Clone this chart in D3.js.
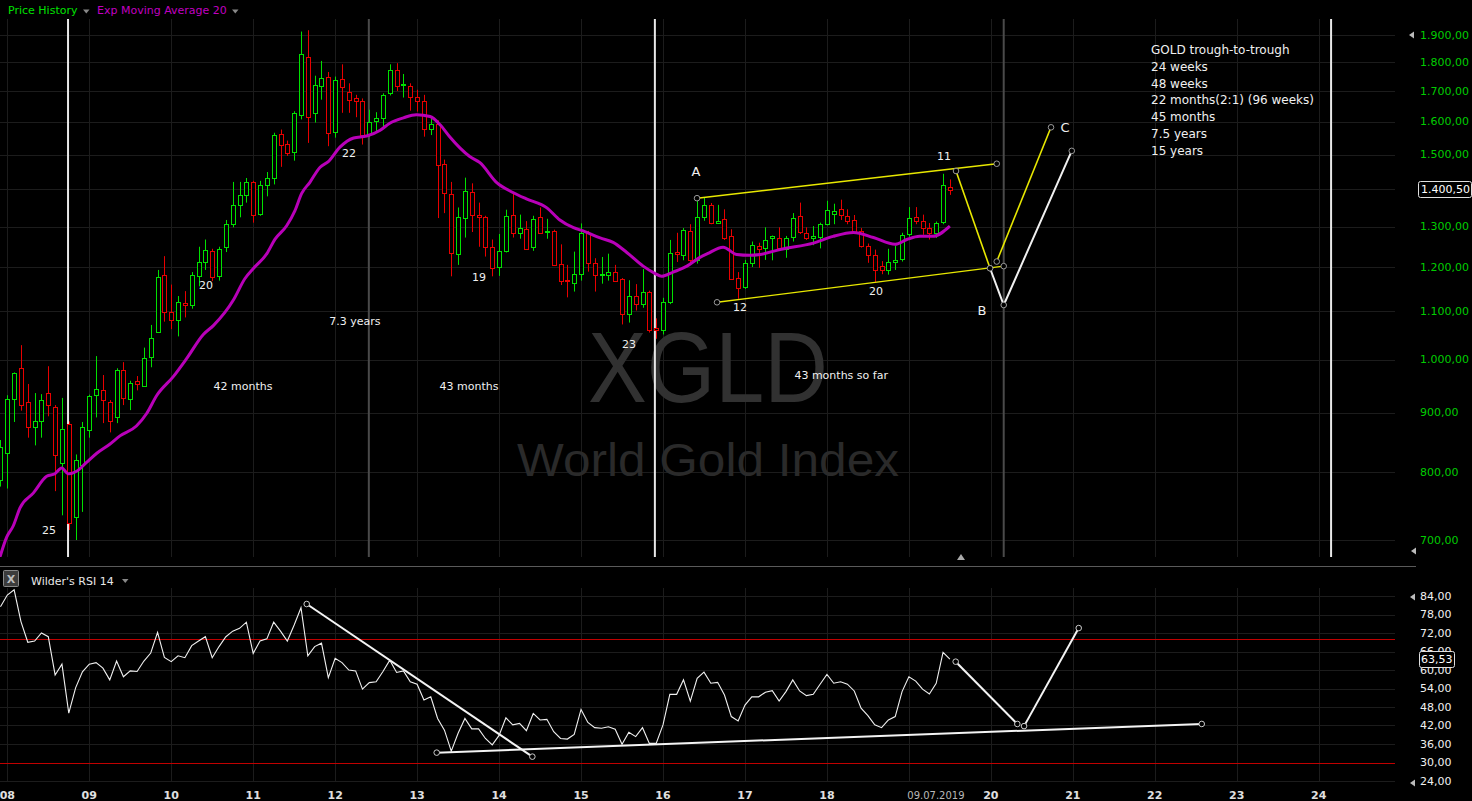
<!DOCTYPE html>
<html>
<head>
<meta charset="utf-8">
<script src="https://cdn.jsdelivr.net/npm/d3@7"></script>
<style>
html, body { margin: 0; padding: 0; background: #000; }
svg { display: block; font-family: "DejaVu Sans", Verdana, sans-serif; }
</style>
</head>
<body>
<div id="chart"></div>
<script>
//Datos mensuales (primer valor = dic 2007)
const FIRST_YEAR = 2007 + 11 / 12;
const opens = [788,832,925,983,920,875,885,936,911,814,880,733,812,871,931,941,919,892,979,925,958,950,1004,1057,1181,1099,1080,1119,1113,1179,1213,1240,1181,1250,1307,1358,1385,1421,1332,1411,1434,1563,1533,1507,1623,1820,1627,1718,1748,1568,1741,1698,1676,1669,1562,1600,1611,1693,1773,1719,1717,1681,1667,1576,1592,1472,1387,1231,1325,1392,1332,1326,1250,1202,1240,1332,1285,1295,1250,1326,1287,1290,1209,1170,1164,1185,1285,1211,1182,1182,1190,1172,1094,1134,1117,1144,1065,1060,1120,1236,1230,1290,1217,1325,1358,1311,1321,1278,1176,1154,1211,1253,1248,1272,1273,1246,1276,1329,1285,1273,1273,1307,1332,1346,1329,1317,1290,1253,1229,1203,1193,1213,1220,1282,1326,1316,1298,1285,1313,1408];
const highs = [853,932,975,1029,953,936,934,987,914,927,885,829,884,933,1007,970,923,983,995,959,968,1024,1071,1194,1227,1160,1134,1145,1189,1250,1268,1245,1250,1318,1421,1421,1432,1424,1424,1449,1566,1576,1542,1634,1913,1918,1753,1805,1766,1750,1793,1727,1688,1676,1639,1631,1693,1793,1797,1759,1727,1705,1688,1611,1605,1485,1421,1351,1433,1417,1364,1329,1268,1282,1345,1389,1332,1315,1329,1351,1321,1293,1256,1206,1238,1309,1290,1222,1225,1233,1206,1175,1170,1161,1196,1146,1085,1130,1267,1285,1297,1307,1376,1379,1363,1358,1346,1294,1189,1218,1263,1260,1299,1278,1299,1277,1336,1364,1299,1302,1311,1369,1361,1372,1346,1331,1297,1258,1243,1215,1245,1253,1285,1352,1352,1332,1310,1314,1444,1428];
const lows = [778,775,884,904,857,844,857,894,771,735,714,700,740,857,892,882,866,882,914,905,941,948,985,1055,1078,1062,1047,1087,1106,1156,1194,1168,1169,1237,1299,1325,1364,1311,1329,1381,1414,1464,1496,1482,1608,1535,1598,1672,1525,1551,1629,1629,1615,1530,1553,1566,1584,1686,1701,1679,1636,1633,1554,1559,1323,1336,1179,1206,1273,1287,1250,1226,1179,1180,1236,1273,1270,1243,1240,1282,1270,1204,1159,1131,1144,1169,1190,1144,1162,1169,1169,1072,1076,1102,1108,1055,1042,1051,1116,1213,1217,1209,1209,1316,1307,1309,1267,1171,1128,1150,1201,1199,1218,1217,1246,1223,1263,1282,1267,1254,1246,1304,1307,1318,1307,1282,1248,1211,1166,1184,1183,1194,1214,1275,1307,1280,1268,1272,1307,1385];
const closes = [841,925,973,914,875,885,923,914,829,871,724,820,876,931,943,923,885,979,927,955,952,1004,1043,1178,1097,1082,1120,1115,1181,1213,1243,1179,1245,1307,1358,1385,1421,1332,1411,1431,1560,1530,1507,1627,1830,1615,1721,1745,1565,1737,1713,1672,1665,1560,1600,1611,1686,1773,1719,1723,1681,1667,1576,1592,1469,1389,1234,1325,1397,1329,1326,1250,1199,1240,1329,1285,1297,1246,1321,1285,1290,1206,1169,1167,1185,1285,1211,1182,1185,1190,1170,1094,1134,1117,1144,1062,1060,1120,1234,1232,1292,1217,1325,1358,1311,1316,1273,1174,1154,1211,1255,1246,1267,1276,1248,1273,1324,1287,1273,1278,1307,1343,1341,1329,1316,1287,1253,1232,1194,1193,1213,1218,1280,1323,1315,1298,1285,1311,1412,1400.5];
const rsiValues = [80.5,84.3,86,75.7,69,69.4,72,70.8,58.4,61.9,46,54.2,59.4,61.9,62.4,60.6,56.8,62.9,57.8,59.7,59.5,62.9,65.5,72.2,64.1,62.7,64.6,64,67.9,69.4,70.8,64,67.6,70.8,72.6,73.5,75.5,65.4,69.4,70.1,75.5,72.6,69.4,74.6,80.2,64.6,67.6,68.7,57.5,63.8,62.4,60,59.7,53.8,55.9,56.2,59.5,63.2,59.2,59.7,56.2,55.4,50.3,51.3,44.3,40.5,33.7,39.5,44.3,40.9,40.9,37.8,35.7,38.8,44.5,42.2,42.7,40.3,45.9,43.8,44,40,37.8,37.6,39.1,47.2,43,41.3,41.1,41.6,40.8,35.9,39.8,38.4,41.3,36.2,36.2,42.2,52.1,52.1,56.8,49.9,57.3,59.3,55.7,56,51.9,44.9,43.5,48.6,51.3,51.3,52.8,53.3,49.9,53,56.8,53.2,51.7,52.1,55.4,58.6,55.7,56.2,55.4,53.2,47.6,45.2,42.2,41.3,43.8,44.9,53,57.8,56.4,53.8,52.2,55.7,65.7,63.53];

//Media exponencial 20 (mes desde ene 2008, valor)
const emaMonths = [-1.07,-0.09,0.88,1.86,3.8,5.77,6.98,7.96,8.93,10.16,11.6,13.1,15,16.5,18.9,20.4,21.9,24.3,26.3,28.7,30.2,33.1,34.8,36,38,39.2,40.9,42.1,43.1,44.3,45.8,47,48.7,50.7,52.6,54.6,56,58,59.9,61.9,63.4,64.8,66.3,67.7,69.2,71.7,74.1,76,79,80.9,82.9,84.3,86.8,88.7,90.7,93.1,94.8,95.8,97.5,99.5,101.4,102.5,104.8,106.8,108.7,110.2,113.3,118,120.9,123.9,126.8,130,131.7,133.6,135.5,138];
const emaValues = [677,704,720,746,768,794,798,807,798,802,816,831,846,860,877,899,932,967,1003,1051,1070,1125,1174,1197,1233,1269,1303,1342,1389,1420,1463,1479,1522,1550,1556,1574,1596,1613,1623,1617,1590,1553,1519,1494,1476,1418,1391,1374,1350,1318,1298,1290,1272,1261,1236,1203,1186,1179,1189,1203,1224,1233,1249,1231,1229,1231,1244,1259,1276,1286,1273,1256,1268,1276,1276,1302];

//Ejes
const priceTicks = [700,800,900,1000,1100,1200,1300,1400,1500,1600,1700,1800,1900];
const rsiTicks = [84,78,72,66,60,54,48,42,36,30,24];
const rsiLevels = [70, 30];
const yearTicks = d3.range(2008, 2025);
const lastDateLabel = '09.07.2019';
const lastPrice = 1400.5;
const lastRsi = 63.53;

//Lineas de ciclo (años decimales)
const cycleMajor = [2008.741, 2015.901, 2024.151];
const cycleMinor = [2012.411, 2020.157];

//Dibujos sobre el precio [año, precio]
const channelTop = [[2016.415, 1376], [2020.072, 1473]];
const channelBottom = [[2016.659, 1120], [2020.157, 1203]];
const abcYellowDown = [[2019.575, 1452], [2019.990, 1198]];
const abcYellowUp = [[2020.072, 1214], [2020.734, 1583]];
const abcWhite = [[2019.990, 1198], [2020.157, 1114], [2020.987, 1511]];

//Dibujos sobre el RSI [año, rsi]
const rsiDownTrend = [[2011.653, 81.4], [2014.406, 31.9]];
const rsiSupport = [[2013.239, 33.2], [2022.573, 42.5]];
const rsiPathDown = [[2019.571, 62.7], [2020.323, 42.5]];
const rsiPathUp = [[2020.405, 41.8], [2021.072, 73.6]];

//Textos [texto, año, precio]
const noteTexts = ['25','20','22','7.3 years','42 months','19','43 months','23','12','20','11','43 months so far'];
const noteYears = [2008.509,2010.424,2012.169,2012.241,2010.876,2013.755,2013.633,2015.585,2016.940,2018.599,2019.429,2018.174];
const notePrices = [712.6,1157,1503,1079,949,1177,948,1031,1108,1145,1494,970];
const waveTexts = ['A','B','C'];
const waveYears = [2016.403, 2019.893, 2020.906];
const wavePrices = [1452, 1101, 1581];
const infoLines = ['GOLD trough-to-trough','24 weeks','48 weeks','22 months(2:1) (96 weeks)','45 months','7.5 years','15 years'];

//Colores
const COLOR_UP = '#00e000', COLOR_DOWN = '#e80000', COLOR_EMA = '#b800b8',
COLOR_GRID = '#1c1c1c', COLOR_AXIS_PRICE = '#00cc00', COLOR_YELLOW = '#e8e800';

let width = 1472, height = 801;
let plotRight = 1395;
let mainTop = 19, mainBottom = 557;
let rsiTop = 588, rsiBottom = 782;

let svg = d3.select('#chart')
    .append('svg')
        .attr('width', width)
        .attr('height', height)
        .style('background', '#000');

let x = d3.scaleLinear()
    .domain([2008, 2024])
    .range([7.3, 1318.7]);

let y = d3.scaleLog()
    .domain([700, 1900])
    .range([540, 35]);

let yRsi = d3.scaleLinear()
    .domain([24, 84])
    .range([781, 596]);

let fmt = d3.formatLocale({decimal: ',', thousands: '.', grouping: [3], currency: ['', '']}).format(',.2f');

let defs = svg.append('defs');
defs.append('clipPath').attr('id', 'clip-main')
    .append('rect').attr('x', 0).attr('y', mainTop).attr('width', plotRight).attr('height', mainBottom - mainTop);
defs.append('clipPath').attr('id', 'clip-rsi')
    .append('rect').attr('x', 0).attr('y', rsiTop).attr('width', plotRight).attr('height', rsiBottom - rsiTop + 6);

///////////////PANEL PRECIO///////////////
let gMain = svg.append('g').attr('clip-path', 'url(#clip-main)');

//Rejilla
gMain.append('g')
    .selectAll('line')
    .data(yearTicks)
    .enter()
    .append('line')
    .attr('x1', function(d) { return Math.round(x(d)) + 0.5; })
    .attr('x2', function(d) { return Math.round(x(d)) + 0.5; })
    .attr('y1', mainTop)
    .attr('y2', mainBottom)
    .attr('stroke', COLOR_GRID);

gMain.append('g')
    .selectAll('line')
    .data(priceTicks)
    .enter()
    .append('line')
    .attr('x1', 0)
    .attr('x2', plotRight)
    .attr('y1', function(d) { return Math.round(y(d)) + 0.5; })
    .attr('y2', function(d) { return Math.round(y(d)) + 0.5; })
    .attr('stroke', COLOR_GRID);

//Marcas de agua (detrás de todo)
gMain.append('text')
    .attr('x', 708)
    .attr('y', 402)
    .attr('text-anchor', 'middle')
    .attr('font-family', '"Liberation Sans", Arial, sans-serif')
    .attr('font-size', 100)
    .attr('textLength', 240)
    .attr('lengthAdjust', 'spacingAndGlyphs')
    .attr('fill', '#313131')
    .text('XGLD');

gMain.append('text')
    .attr('x', 708)
    .attr('y', 476)
    .attr('text-anchor', 'middle')
    .attr('font-family', '"Liberation Sans", Arial, sans-serif')
    .attr('font-size', 46)
    .attr('textLength', 382)
    .attr('lengthAdjust', 'spacingAndGlyphs')
    .attr('fill', '#2a2a2a')
    .text('World Gold Index');

//Lineas de ciclo
gMain.append('g')
    .selectAll('line')
    .data(cycleMinor)
    .enter()
    .append('line')
    .attr('x1', function(d) { return x(d); })
    .attr('x2', function(d) { return x(d); })
    .attr('y1', mainTop)
    .attr('y2', mainBottom)
    .attr('stroke', '#4a4a4a')
    .attr('stroke-width', 2);

gMain.append('g')
    .selectAll('line')
    .data(cycleMajor)
    .enter()
    .append('line')
    .attr('x1', function(d) { return x(d); })
    .attr('x2', function(d) { return x(d); })
    .attr('y1', mainTop)
    .attr('y2', mainBottom)
    .attr('stroke', '#e8e8e8')
    .attr('stroke-width', 2);

//Velas
let candles = opens.map(function(o, i) {
    return { t: FIRST_YEAR + i / 12, o: o, h: highs[i], l: lows[i], c: closes[i] };
});

let gCandles = gMain.append('g');

gCandles.selectAll('.wick')
    .data(candles)
    .enter()
    .append('line')
    .attr('class', 'wick')
    .attr('x1', function(d) { return Math.round(x(d.t)) + 0.5; })
    .attr('x2', function(d) { return Math.round(x(d.t)) + 0.5; })
    .attr('y1', function(d) { return y(d.h); })
    .attr('y2', function(d) { return y(d.l); })
    .attr('stroke', function(d) { return d.c >= d.o ? COLOR_UP : COLOR_DOWN; })
    .attr('stroke-width', 1);

gCandles.selectAll('.body')
    .data(candles)
    .enter()
    .append('rect')
    .attr('class', 'body')
    .attr('x', function(d) { return Math.round(x(d.t)) - 1.5; })
    .attr('y', function(d) { return Math.round(Math.min(y(d.o), y(d.c))) + 0.5; })
    .attr('width', 4)
    .attr('height', function(d) { return Math.max(1, Math.round(Math.abs(y(d.o) - y(d.c)))); })
    .attr('fill', '#000')
    .attr('stroke', function(d) { return d.c >= d.o ? COLOR_UP : COLOR_DOWN; })
    .attr('stroke-width', 1);

//EMA 20
let emaData = emaMonths.map(function(m, i) { return [2008 + m / 12, emaValues[i]]; });

gMain.append('path')
    .datum(emaData)
    .attr('fill', 'none')
    .attr('stroke', COLOR_EMA)
    .attr('stroke-width', 3)
    .attr('stroke-linejoin', 'round')
    .attr('d', d3.line()
        .x(function(d) { return x(d[0]); })
        .y(function(d) { return y(d[1]); })
        .curve(d3.curveMonotoneX));

//Canal y ondas
let priceLine = d3.line()
    .x(function(d) { return x(d[0]); })
    .y(function(d) { return y(d[1]); });

function drawPriceShape(points, color, w) {
    gMain.append('path')
        .datum(points)
        .attr('fill', 'none')
        .attr('stroke', color)
        .attr('stroke-width', w)
        .attr('d', priceLine);
    gMain.append('g')
        .selectAll('circle')
        .data(points)
        .enter()
        .append('circle')
        .attr('cx', function(d) { return x(d[0]); })
        .attr('cy', function(d) { return y(d[1]); })
        .attr('r', 2.8)
        .attr('fill', '#000')
        .attr('stroke', '#999')
        .attr('stroke-width', 1);
}

drawPriceShape(channelTop, COLOR_YELLOW, 1.4);
drawPriceShape(channelBottom, COLOR_YELLOW, 1.4);
drawPriceShape(abcYellowDown, COLOR_YELLOW, 1.6);
drawPriceShape(abcYellowUp, COLOR_YELLOW, 1.6);
drawPriceShape(abcWhite, '#f0f0f0', 2);

//Textos
gMain.append('g')
    .selectAll('text')
    .data(noteTexts)
    .enter()
    .append('text')
    .attr('x', function(d, i) { return x(noteYears[i]); })
    .attr('y', function(d, i) { return y(notePrices[i]); })
    .attr('text-anchor', 'middle')
    .attr('dominant-baseline', 'central')
    .attr('font-size', 11)
    .attr('fill', '#f0f0f0')
    .text(function(d) { return d; });

gMain.append('g')
    .selectAll('text')
    .data(waveTexts)
    .enter()
    .append('text')
    .attr('x', function(d, i) { return x(waveYears[i]); })
    .attr('y', function(d, i) { return y(wavePrices[i]); })
    .attr('text-anchor', 'middle')
    .attr('dominant-baseline', 'central')
    .attr('font-size', 13)
    .attr('fill', '#f0f0f0')
    .text(function(d) { return d; });

svg.append('g')
    .selectAll('text')
    .data(infoLines)
    .enter()
    .append('text')
    .attr('x', 1151)
    .attr('y', function(d, i) { return 54 + i * 16.8; })
    .attr('font-size', 12)
    .attr('fill', '#f0f0f0')
    .text(function(d) { return d; });

//Eje de precios
svg.append('g')
    .selectAll('text')
    .data(priceTicks)
    .enter()
    .append('text')
    .attr('x', 1420)
    .attr('y', function(d) { return y(d); })
    .attr('dominant-baseline', 'central')
    .attr('font-size', 11)
    .attr('fill', COLOR_AXIS_PRICE)
    .text(function(d) { return fmt(d); });

let gLast = svg.append('g');
gLast.append('rect')
    .attr('x', 1418.5)
    .attr('y', Math.round(y(lastPrice)) - 7.5)
    .attr('width', 53)
    .attr('height', 16)
    .attr('rx', 2)
    .attr('fill', '#000')
    .attr('stroke', '#e0e0e0');
gLast.append('text')
    .attr('x', 1421)
    .attr('y', y(lastPrice) + 0.5)
    .attr('dominant-baseline', 'central')
    .attr('font-size', 11)
    .attr('fill', '#fff')
    .text(fmt(lastPrice));

//Marcadores
svg.append('path').attr('d', 'M1409,35 L1414,31.5 L1414,38.5 Z').attr('fill', '#bbb');
svg.append('path').attr('d', 'M1411,551 L1416,547.5 L1416,554.5 Z').attr('fill', '#bbb');
svg.append('path').attr('d', 'M957,560 L961,554 L965,560 Z').attr('fill', '#aaa');

//Leyenda
svg.append('text').attr('x', 8).attr('y', 14).attr('font-size', 11).attr('fill', COLOR_UP).text('Price History');
svg.append('path').attr('d', 'M83,9.5 L89.5,9.5 L86.25,13.5 Z').attr('fill', '#888');
svg.append('text').attr('x', 97).attr('y', 14).attr('font-size', 11).attr('fill', '#c000c0').text('Exp Moving Average 20');
svg.append('path').attr('d', 'M232,9.5 L238.5,9.5 L235.25,13.5 Z').attr('fill', '#888');

//Separador
svg.append('line')
    .attr('x1', 0).attr('x2', 1416)
    .attr('y1', 566.5).attr('y2', 566.5)
    .attr('stroke', '#5a5a5a');

///////////////PANEL RSI///////////////
let gRsi = svg.append('g').attr('clip-path', 'url(#clip-rsi)');

gRsi.append('g')
    .selectAll('line')
    .data(yearTicks)
    .enter()
    .append('line')
    .attr('x1', function(d) { return Math.round(x(d)) + 0.5; })
    .attr('x2', function(d) { return Math.round(x(d)) + 0.5; })
    .attr('y1', rsiTop)
    .attr('y2', rsiBottom)
    .attr('stroke', COLOR_GRID);

gRsi.append('g')
    .selectAll('line')
    .data(rsiTicks)
    .enter()
    .append('line')
    .attr('x1', 0)
    .attr('x2', plotRight)
    .attr('y1', function(d) { return Math.round(yRsi(d)) + 0.5; })
    .attr('y2', function(d) { return Math.round(yRsi(d)) + 0.5; })
    .attr('stroke', COLOR_GRID);

gRsi.append('g')
    .selectAll('line')
    .data(rsiLevels)
    .enter()
    .append('line')
    .attr('x1', 0)
    .attr('x2', plotRight)
    .attr('y1', function(d) { return Math.round(yRsi(d)) + 0.5; })
    .attr('y2', function(d) { return Math.round(yRsi(d)) + 0.5; })
    .attr('stroke', '#c00000');

gRsi.append('path')
    .datum(rsiValues)
    .attr('fill', 'none')
    .attr('stroke', '#f0f0f0')
    .attr('stroke-width', 1.1)
    .attr('d', d3.line()
        .x(function(d, i) { return x(FIRST_YEAR + i / 12); })
        .y(function(d) { return yRsi(d); }));

let rsiLine = d3.line()
    .x(function(d) { return x(d[0]); })
    .y(function(d) { return yRsi(d[1]); });

[rsiDownTrend, rsiSupport, rsiPathDown, rsiPathUp].forEach(function(points) {
    gRsi.append('path')
        .datum(points)
        .attr('fill', 'none')
        .attr('stroke', '#f4f4f4')
        .attr('stroke-width', 2)
        .attr('d', rsiLine);
    gRsi.append('g')
        .selectAll('circle')
        .data(points)
        .enter()
        .append('circle')
        .attr('cx', function(d) { return x(d[0]); })
        .attr('cy', function(d) { return yRsi(d[1]); })
        .attr('r', 2.8)
        .attr('fill', '#000')
        .attr('stroke', '#ccc')
        .attr('stroke-width', 1);
});

//Eje RSI
svg.append('g')
    .selectAll('text')
    .data(rsiTicks)
    .enter()
    .append('text')
    .attr('x', 1420)
    .attr('y', function(d) { return yRsi(d); })
    .attr('dominant-baseline', 'central')
    .attr('font-size', 11)
    .attr('fill', '#f0f0f0')
    .text(function(d) { return fmt(d); });

gLast = svg.append('g');
gLast.append('rect')
    .attr('x', 1419.5)
    .attr('y', Math.round(yRsi(lastRsi)) - 7.5)
    .attr('width', 35)
    .attr('height', 16)
    .attr('rx', 2)
    .attr('fill', '#000')
    .attr('stroke', '#e0e0e0');
gLast.append('text')
    .attr('x', 1421)
    .attr('y', yRsi(lastRsi) + 0.5)
    .attr('dominant-baseline', 'central')
    .attr('font-size', 11)
    .attr('fill', '#fff')
    .text(fmt(lastRsi));

svg.append('path').attr('d', 'M1410,597 L1415,593.5 L1415,600.5 Z').attr('fill', '#bbb');
svg.append('path').attr('d', 'M1410,783 L1415,779.5 L1415,786.5 Z').attr('fill', '#bbb');

//Eje temporal
svg.append('g')
    .selectAll('text')
    .data(yearTicks.filter(function(d) { return d != 2019; }))
    .enter()
    .append('text')
    .attr('x', function(d) { return x(d); })
    .attr('y', 795)
    .attr('text-anchor', 'middle')
    .attr('dominant-baseline', 'central')
    .attr('font-size', 11)
    .attr('font-weight', 'bold')
    .attr('fill', '#e0e0e0')
    .text(function(d) { return d3.format('02')(d % 100); });

svg.append('text')
    .attr('x', x(2019.33))
    .attr('y', 795)
    .attr('text-anchor', 'middle')
    .attr('dominant-baseline', 'central')
    .attr('font-size', 10)
    .attr('fill', '#b8b8b8')
    .text(lastDateLabel);

//Leyenda RSI
svg.append('rect')
    .attr('x', 3.5).attr('y', 570.5)
    .attr('width', 15).attr('height', 16)
    .attr('rx', 1)
    .attr('fill', '#3c3c3c')
    .attr('stroke', '#888');
svg.append('text')
    .attr('x', 11).attr('y', 579)
    .attr('text-anchor', 'middle')
    .attr('dominant-baseline', 'central')
    .attr('font-size', 11)
    .attr('font-weight', 'bold')
    .attr('fill', '#bbb')
    .text('X');
svg.append('text').attr('x', 31).attr('y', 585).attr('font-size', 11).attr('fill', '#e8e8e8').text("Wilder's RSI 14");
svg.append('path').attr('d', 'M122,579 L128.5,579 L125.25,583 Z').attr('fill', '#888');
</script>
</body>
</html>
